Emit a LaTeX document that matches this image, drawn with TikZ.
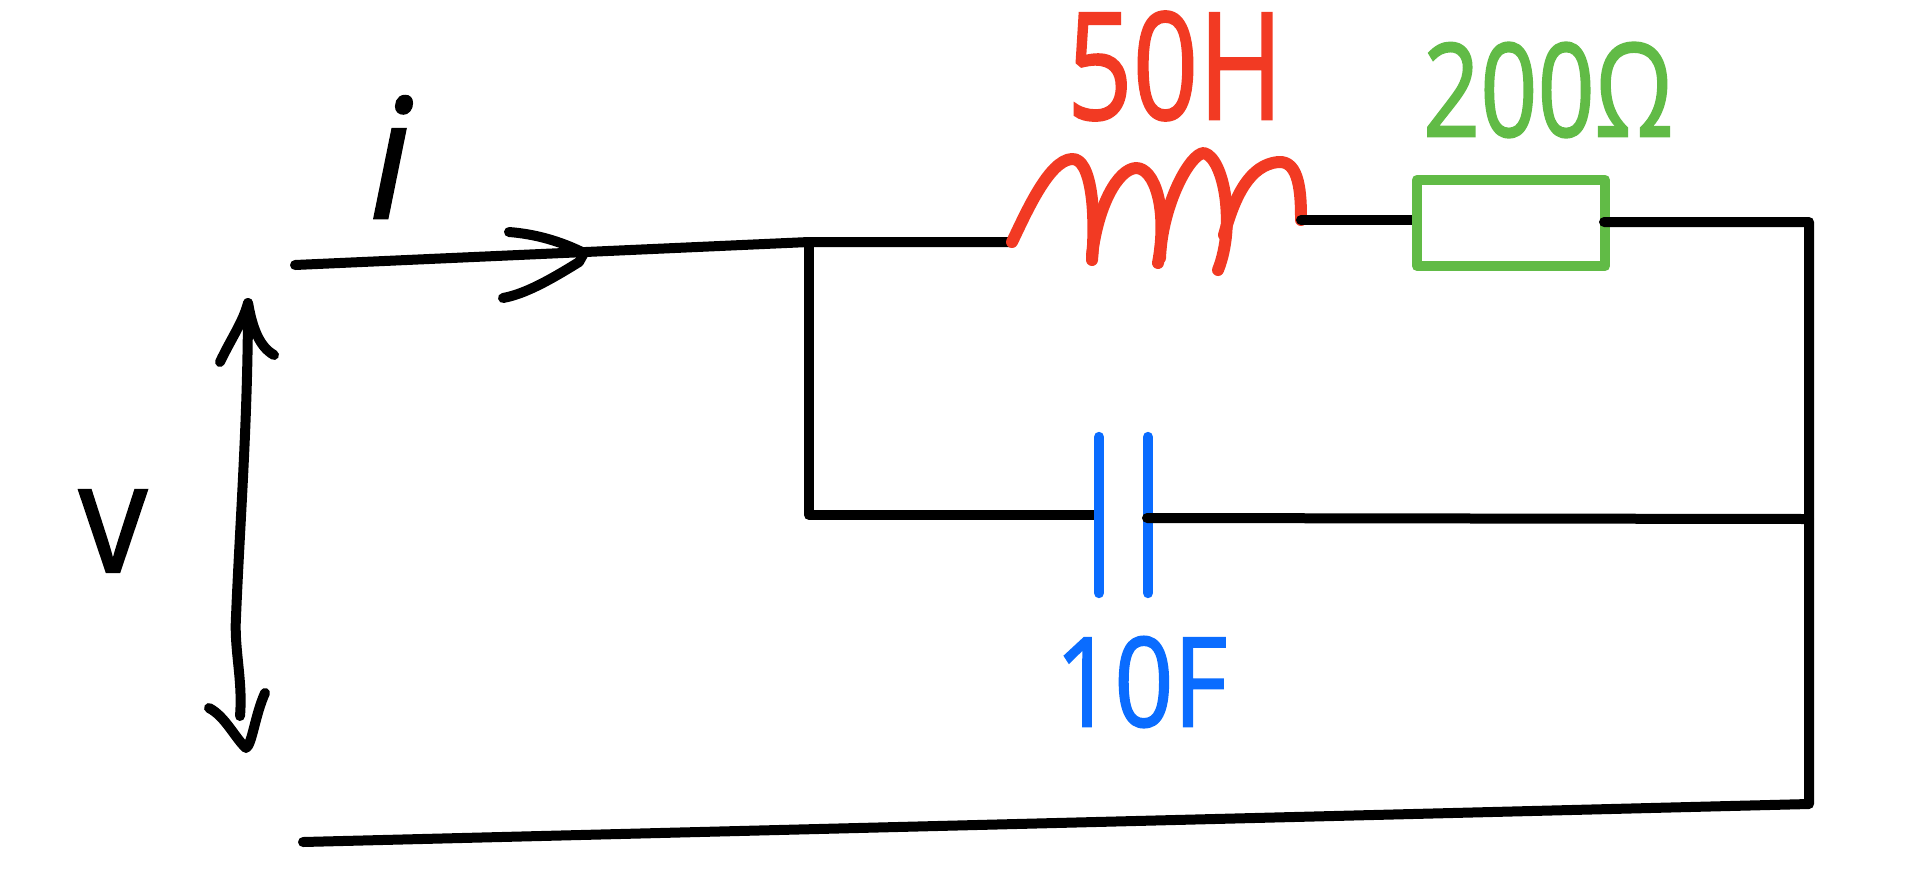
\documentclass[tikz,border=0pt]{standalone}
\usepackage{fontspec}
\setmainfont[FakeBold=1.5]{Open Sans}
\definecolor{penred}{HTML}{F23A23}
\definecolor{pengreen}{HTML}{61BB46}
\definecolor{penblue}{HTML}{0A6CFF}
\tikzset{
  wire/.style={line width=5pt,black,line cap=round,line join=round},
  redpen/.style={line width=6pt,penred,line cap=round,line join=round},
  greenpen/.style={line width=5.2pt,pengreen,line join=round},
  bluepen/.style={line width=5.2pt,penblue,line cap=round},
  handlabel/.style={inner sep=0pt,outer sep=0pt,anchor=center}
}
\newcommand{\fitlabel}[3]{\resizebox{#1pt}{#2pt}{#3}}
\begin{document}
\begin{tikzpicture}[x=0.5pt,y=-0.5pt]
\useasboundingbox (0,0) rectangle (1910,895);
% named points
\coordinate (inL) at (295,265);
\coordinate (j1) at (809,242);
\coordinate (indL) at (1012,242);
\coordinate (indR) at (1301,220);
\coordinate (resL) at (1412,220);
\coordinate (resR) at (1604,222);
\coordinate (cornerTR) at (1809,222);
\coordinate (j2) at (1809,519);
\coordinate (cornerBR) at (1809,804);
\coordinate (inB) at (303,842);
\coordinate (j3) at (809,515);
\coordinate (capL) at (1096,515);
\coordinate (capR) at (1147,518);
% black wires beneath the coloured parts
\draw[wire] (inL) -- (j1) -- (indL);
\draw[wire] (j1) -- (j3) -- (capL);
% current arrowhead
\coordinate (iTip) at (584,253);
\coordinate (iBarbA) at (509,232);
\coordinate (iBarbB) at (503,298);
\draw[wire] (iBarbA) .. controls (535,234) and (560,241) .. (iTip) -- (579,262) .. controls (550,280) and (525,294) .. (iBarbB);
% voltage arrow
\coordinate (vTop) at (248,303);
\coordinate (vBot) at (240,716);
\coordinate (vTip) at (246,748);
\draw[wire] (vTop) .. controls (248,420) and (240,520) .. (236,617) .. controls (234,650) and (243,680) .. (vBot);
\draw[wire] (220,362) .. controls (232,337) and (243,322) .. (vTop) .. controls (252,325) and (258,346) .. (274,355);
\draw[wire] (209,708) .. controls (225,716) and (235,738) .. (vTip) .. controls (252,745) and (255,715) .. (265,693);
% inductor
\draw[redpen] (indL) .. controls (1026,213) and (1049,160) .. (1072,159)
  .. controls (1092,158) and (1096,215) .. (1092,260);
\draw[redpen] (1092,255) .. controls (1098,205) and (1118,169) .. (1136,168)
  .. controls (1155,168) and (1168,210) .. (1158,263);
\draw[redpen] (1160,258) .. controls (1162,205) and (1190,153) .. (1204,153)
  .. controls (1224,158) and (1236,225) .. (1218,270);
\draw[redpen] (1224,235) .. controls (1235,195) and (1250,165) .. (1278,162)
  .. controls (1300,160) and (1301,195) .. (indR);
\draw[wire] (indR) -- (resL);
% resistor
\node[greenpen,draw,rectangle,minimum width=94pt,minimum height=43pt,inner sep=0pt] (res) at (1511,223) {};
% capacitor
\coordinate (p1a) at (1099,437);\coordinate (p1b) at (1099,593);
\coordinate (p2a) at (1148,437);\coordinate (p2b) at (1148,593);
\draw[bluepen] (p1a) -- (p1b);
\draw[bluepen] (p2a) -- (p2b);
% black wires over the coloured parts
\draw[wire] (capR) -- (j2);
\draw[wire] (resR) -- (cornerTR) -- (j2) -- (cornerBR) -- (inB);
% labels
\node[handlabel,text=penred] (l50) at (1175,66) {\fitlabel{108}{54}{50H}};
\node[handlabel,text=pengreen] (l200) at (1548,90) {\fitlabel{125}{47}{200Ω}};
\node[handlabel,text=penblue] (l10) at (1141,682) {\fitlabel{86}{45}{10F}};
\node[handlabel,text=black] (li) at (390,157) {\fitlabel{20}{61}{\itshape i}};
\node[handlabel,text=black] (lv) at (113,531) {\fitlabel{34}{41}{v}};
\end{tikzpicture}
\end{document}
